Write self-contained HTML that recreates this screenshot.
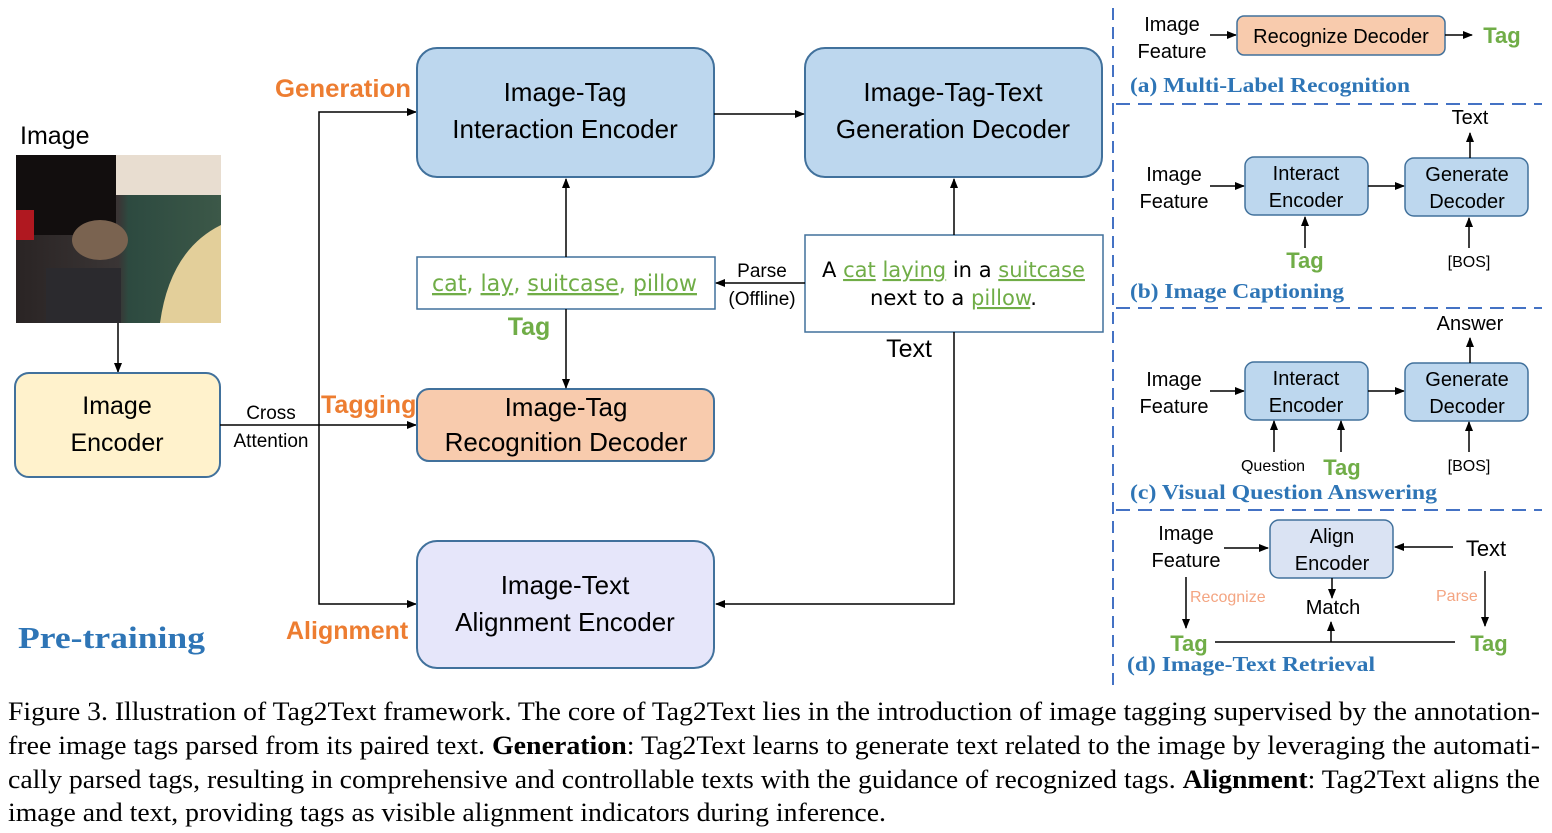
<!DOCTYPE html>
<html><head><meta charset="utf-8"><style>
html,body{margin:0;padding:0;background:#fff;}
svg{display:block;}
text{font-family:"Liberation Sans",sans-serif;}
.s{font-family:"DejaVu Sans","Liberation Sans",sans-serif;}
.ser{font-family:"Liberation Serif",serif;}
</style></head><body>
<svg width="1552" height="833" viewBox="0 0 1552 833" xmlns="http://www.w3.org/2000/svg">
<defs>
<marker id="a" markerWidth="10" markerHeight="10" refX="9" refY="5" orient="auto" markerUnits="userSpaceOnUse"><path d="M0,1 L10,5 L0,9 z" fill="#000"/></marker>
<linearGradient id="g1" x1="0" y1="0" x2="1" y2="0"><stop offset="0" stop-color="#2a2424"/><stop offset="0.5" stop-color="#3a3535"/><stop offset="0.55" stop-color="#2d4a40"/><stop offset="1" stop-color="#3c5848"/></linearGradient>
</defs>
<text x="20" y="144" font-size="25">Image</text>
<rect x="16" y="155" width="205" height="168" fill="url(#g1)"/>
<rect x="16" y="155" width="100" height="80" fill="#120e0e"/>
<rect x="116" y="155" width="105" height="40" fill="#e8ddd0"/>
<path d="M221,225 Q170,250 160,323 L221,323 z" fill="#e3cf9a"/>
<rect x="46" y="268" width="75" height="55" fill="#2b2a2e"/>
<ellipse cx="100" cy="240" rx="28" ry="20" fill="#7a6350"/>
<rect x="16" y="210" width="18" height="30" fill="#b01820"/>
<line x1="118" y1="323" x2="118" y2="372" stroke="#000" stroke-width="1.5" marker-end="url(#a)"/>
<rect x="15" y="373" width="205" height="104" rx="14" fill="#fff2cc" stroke="#41719c" stroke-width="2"/>
<text x="117" y="414" font-size="25" text-anchor="middle">Image</text>
<text x="117" y="451" font-size="25" text-anchor="middle">Encoder</text>
<line x1="220" y1="425" x2="416" y2="425" stroke="#000" stroke-width="1.5" marker-end="url(#a)"/>
<text x="271" y="419" font-size="19" text-anchor="middle">Cross</text>
<text x="271" y="447" font-size="19" text-anchor="middle">Attention</text>
<path d="M319,425 V112 H416" fill="none" stroke="#000" stroke-width="1.5" marker-end="url(#a)"/>
<path d="M319,425 V604 H416" fill="none" stroke="#000" stroke-width="1.5" marker-end="url(#a)"/>
<text x="275" y="97" font-size="25" font-weight="bold" fill="#ed7d31" textLength="136" lengthAdjust="spacingAndGlyphs">Generation</text>
<text x="321" y="413" font-size="25" font-weight="bold" fill="#ed7d31">Tagging</text>
<text x="286" y="639" font-size="25" font-weight="bold" fill="#ed7d31">Alignment</text>
<text x="18" y="648" font-size="31" font-weight="bold" fill="#2e75b6" class="ser" textLength="187" lengthAdjust="spacingAndGlyphs">Pre-training</text>
<rect x="417" y="48" width="297" height="129" rx="20" fill="#bdd7ee" stroke="#41719c" stroke-width="2"/>
<text x="565" y="101" font-size="26" text-anchor="middle">Image-Tag</text>
<text x="565" y="138" font-size="26" text-anchor="middle">Interaction Encoder</text>
<rect x="805" y="48" width="297" height="129" rx="20" fill="#bdd7ee" stroke="#41719c" stroke-width="2"/>
<text x="953" y="101" font-size="26" text-anchor="middle">Image-Tag-Text</text>
<text x="953" y="138" font-size="26" text-anchor="middle">Generation Decoder</text>
<line x1="714" y1="114" x2="804" y2="114" stroke="#000" stroke-width="1.5" marker-end="url(#a)"/>
<rect x="417" y="389" width="297" height="72" rx="12" fill="#f8cbad" stroke="#41719c" stroke-width="2"/>
<text x="566" y="416" font-size="26" text-anchor="middle">Image-Tag</text>
<text x="566" y="451" font-size="26" text-anchor="middle">Recognition Decoder</text>
<rect x="417" y="541" width="297" height="127" rx="20" fill="#e6e6fa" stroke="#41719c" stroke-width="2"/>
<text x="565" y="594" font-size="26" text-anchor="middle">Image-Text</text>
<text x="565" y="631" font-size="26" text-anchor="middle">Alignment Encoder</text>
<rect x="417" y="257" width="298" height="52" fill="#fff" stroke="#41719c" stroke-width="1.5"/>
<text x="432" y="291" font-size="23" fill="#70ad47" class="s" textLength="265" lengthAdjust="spacingAndGlyphs"><tspan text-decoration="underline">cat</tspan>, <tspan text-decoration="underline">lay</tspan>, <tspan text-decoration="underline">suitcase</tspan>, <tspan text-decoration="underline">pillow</tspan></text>
<text x="529" y="335" font-size="25" font-weight="bold" fill="#70ad47" text-anchor="middle">Tag</text>
<line x1="566" y1="257" x2="566" y2="179" stroke="#000" stroke-width="1.5" marker-end="url(#a)"/>
<line x1="566" y1="309" x2="566" y2="388" stroke="#000" stroke-width="1.5" marker-end="url(#a)"/>
<rect x="805" y="235" width="298" height="97" fill="#fff" stroke="#41719c" stroke-width="1.5"/>
<text x="822" y="277" font-size="21" class="s" textLength="263" lengthAdjust="spacingAndGlyphs">A <tspan fill="#70ad47" text-decoration="underline">cat</tspan> <tspan fill="#70ad47" text-decoration="underline">laying</tspan> in a <tspan fill="#70ad47" text-decoration="underline">suitcase</tspan></text>
<text x="870" y="305" font-size="21" class="s" textLength="167" lengthAdjust="spacingAndGlyphs">next to a <tspan fill="#70ad47" text-decoration="underline">pillow</tspan>.</text>
<text x="909" y="357" font-size="25" text-anchor="middle">Text</text>
<line x1="805" y1="283" x2="716" y2="283" stroke="#000" stroke-width="1.5" marker-end="url(#a)"/>
<text x="762" y="277" font-size="19" text-anchor="middle">Parse</text>
<text x="762" y="305" font-size="19" text-anchor="middle">(Offline)</text>
<line x1="954" y1="235" x2="954" y2="179" stroke="#000" stroke-width="1.5" marker-end="url(#a)"/>
<path d="M954,332 V604 H716" fill="none" stroke="#000" stroke-width="1.5" marker-end="url(#a)"/>
<line x1="1113" y1="8" x2="1113" y2="685" stroke="#4472c4" stroke-width="2" stroke-dasharray="12,7"/>
<line x1="1116" y1="104" x2="1542" y2="104" stroke="#4472c4" stroke-width="2" stroke-dasharray="14,8"/>
<line x1="1116" y1="308" x2="1542" y2="308" stroke="#4472c4" stroke-width="2" stroke-dasharray="14,8"/>
<line x1="1116" y1="510" x2="1542" y2="510" stroke="#4472c4" stroke-width="2" stroke-dasharray="14,8"/>
<text x="1172" y="31" font-size="20" text-anchor="middle">Image</text>
<text x="1172" y="58" font-size="20" text-anchor="middle">Feature</text>
<line x1="1210" y1="35" x2="1236" y2="35" stroke="#000" stroke-width="1.5" marker-end="url(#a)"/>
<rect x="1237" y="16" width="208" height="39" rx="7" fill="#f8cbad" stroke="#41719c" stroke-width="1.5"/>
<text x="1341" y="43" font-size="20" text-anchor="middle">Recognize Decoder</text>
<line x1="1445" y1="35" x2="1472" y2="35" stroke="#000" stroke-width="1.5" marker-end="url(#a)"/>
<text x="1502" y="43" font-size="22" font-weight="bold" fill="#70ad47" text-anchor="middle">Tag</text>
<text x="1130" y="92" font-size="21" font-weight="bold" fill="#2e75b6" class="ser" textLength="280" lengthAdjust="spacingAndGlyphs">(a) Multi-Label Recognition</text>
<text x="1174" y="181" font-size="20" text-anchor="middle">Image</text>
<text x="1174" y="208" font-size="20" text-anchor="middle">Feature</text>
<line x1="1210" y1="186" x2="1244" y2="186" stroke="#000" stroke-width="1.5" marker-end="url(#a)"/>
<rect x="1245" y="157" width="123" height="58" rx="9" fill="#bdd7ee" stroke="#41719c" stroke-width="1.5"/>
<text x="1306" y="180" font-size="20" text-anchor="middle">Interact</text>
<text x="1306" y="207" font-size="20" text-anchor="middle">Encoder</text>
<line x1="1368" y1="186" x2="1404" y2="186" stroke="#000" stroke-width="1.5" marker-end="url(#a)"/>
<rect x="1405" y="158" width="123" height="58" rx="9" fill="#bdd7ee" stroke="#41719c" stroke-width="1.5"/>
<text x="1467" y="181" font-size="20" text-anchor="middle">Generate</text>
<text x="1467" y="208" font-size="20" text-anchor="middle">Decoder</text>
<line x1="1470" y1="158" x2="1470" y2="133" stroke="#000" stroke-width="1.5" marker-end="url(#a)"/>
<text x="1470" y="124" font-size="20" text-anchor="middle">Text</text>
<line x1="1305" y1="248" x2="1305" y2="217" stroke="#000" stroke-width="1.5" marker-end="url(#a)"/>
<text x="1305" y="268" font-size="22" font-weight="bold" fill="#70ad47" text-anchor="middle">Tag</text>
<line x1="1469" y1="248" x2="1469" y2="218" stroke="#000" stroke-width="1.5" marker-end="url(#a)"/>
<text x="1469" y="267" font-size="16" text-anchor="middle">[BOS]</text>
<text x="1130" y="298" font-size="21" font-weight="bold" fill="#2e75b6" class="ser" textLength="214" lengthAdjust="spacingAndGlyphs">(b) Image Captioning</text>
<text x="1174" y="386" font-size="20" text-anchor="middle">Image</text>
<text x="1174" y="413" font-size="20" text-anchor="middle">Feature</text>
<line x1="1210" y1="391" x2="1244" y2="391" stroke="#000" stroke-width="1.5" marker-end="url(#a)"/>
<rect x="1245" y="362" width="123" height="58" rx="9" fill="#bdd7ee" stroke="#41719c" stroke-width="1.5"/>
<text x="1306" y="385" font-size="20" text-anchor="middle">Interact</text>
<text x="1306" y="412" font-size="20" text-anchor="middle">Encoder</text>
<line x1="1368" y1="391" x2="1404" y2="391" stroke="#000" stroke-width="1.5" marker-end="url(#a)"/>
<rect x="1405" y="363" width="123" height="58" rx="9" fill="#bdd7ee" stroke="#41719c" stroke-width="1.5"/>
<text x="1467" y="386" font-size="20" text-anchor="middle">Generate</text>
<text x="1467" y="413" font-size="20" text-anchor="middle">Decoder</text>
<line x1="1470" y1="363" x2="1470" y2="338" stroke="#000" stroke-width="1.5" marker-end="url(#a)"/>
<text x="1470" y="330" font-size="20" text-anchor="middle">Answer</text>
<line x1="1274" y1="452" x2="1274" y2="421" stroke="#000" stroke-width="1.5" marker-end="url(#a)"/>
<text x="1273" y="471" font-size="16" text-anchor="middle">Question</text>
<line x1="1341" y1="452" x2="1341" y2="421" stroke="#000" stroke-width="1.5" marker-end="url(#a)"/>
<text x="1342" y="475" font-size="22" font-weight="bold" fill="#70ad47" text-anchor="middle">Tag</text>
<line x1="1469" y1="452" x2="1469" y2="422" stroke="#000" stroke-width="1.5" marker-end="url(#a)"/>
<text x="1469" y="471" font-size="16" text-anchor="middle">[BOS]</text>
<text x="1130" y="499" font-size="21" font-weight="bold" fill="#2e75b6" class="ser" textLength="307" lengthAdjust="spacingAndGlyphs">(c) Visual Question Answering</text>
<text x="1186" y="540" font-size="20" text-anchor="middle">Image</text>
<text x="1186" y="567" font-size="20" text-anchor="middle">Feature</text>
<line x1="1224" y1="548" x2="1268" y2="548" stroke="#000" stroke-width="1.5" marker-end="url(#a)"/>
<rect x="1270" y="520" width="123" height="58" rx="9" fill="#dae3f3" stroke="#41719c" stroke-width="1.5"/>
<text x="1332" y="543" font-size="20" text-anchor="middle">Align</text>
<text x="1332" y="570" font-size="20" text-anchor="middle">Encoder</text>
<line x1="1453" y1="547" x2="1395" y2="547" stroke="#000" stroke-width="1.5" marker-end="url(#a)"/>
<text x="1486" y="556" font-size="22" text-anchor="middle">Text</text>
<line x1="1332" y1="578" x2="1332" y2="598" stroke="#000" stroke-width="1.5" marker-end="url(#a)"/>
<text x="1333" y="614" font-size="20" text-anchor="middle">Match</text>
<line x1="1186" y1="577" x2="1186" y2="628" stroke="#000" stroke-width="1.5" marker-end="url(#a)"/>
<text x="1190" y="602" font-size="16" fill="#f4a582">Recognize</text>
<line x1="1485" y1="571" x2="1485" y2="626" stroke="#000" stroke-width="1.5" marker-end="url(#a)"/>
<text x="1436" y="601" font-size="16" fill="#f4a582">Parse</text>
<line x1="1215" y1="642" x2="1455" y2="642" stroke="#000" stroke-width="1.5"/>
<line x1="1331" y1="642" x2="1331" y2="622" stroke="#000" stroke-width="1.5" marker-end="url(#a)"/>
<text x="1189" y="651" font-size="22" font-weight="bold" fill="#70ad47" text-anchor="middle">Tag</text>
<text x="1489" y="651" font-size="22" font-weight="bold" fill="#70ad47" text-anchor="middle">Tag</text>
<text x="1127" y="671" font-size="21" font-weight="bold" fill="#2e75b6" class="ser" textLength="248" lengthAdjust="spacingAndGlyphs">(d) Image-Text Retrieval</text>
<g font-size="26">
<text x="8" y="720" textLength="1532" lengthAdjust="spacingAndGlyphs" class="ser">Figure 3. Illustration of Tag2Text framework. The core of Tag2Text lies in the introduction of image tagging supervised by the annotation-</text>
<text x="8" y="754" textLength="1532" lengthAdjust="spacingAndGlyphs" class="ser">free image tags parsed from its paired text. <tspan font-weight="bold">Generation</tspan>: Tag2Text learns to generate text related to the image by leveraging the automati-</text>
<text x="8" y="788" textLength="1532" lengthAdjust="spacingAndGlyphs" class="ser">cally parsed tags, resulting in comprehensive and controllable texts with the guidance of recognized tags. <tspan font-weight="bold">Alignment</tspan>: Tag2Text aligns the</text>
<text x="8" y="821" textLength="878" lengthAdjust="spacingAndGlyphs" class="ser">image and text, providing tags as visible alignment indicators during inference.</text>
</g>
</svg>
</body></html>
